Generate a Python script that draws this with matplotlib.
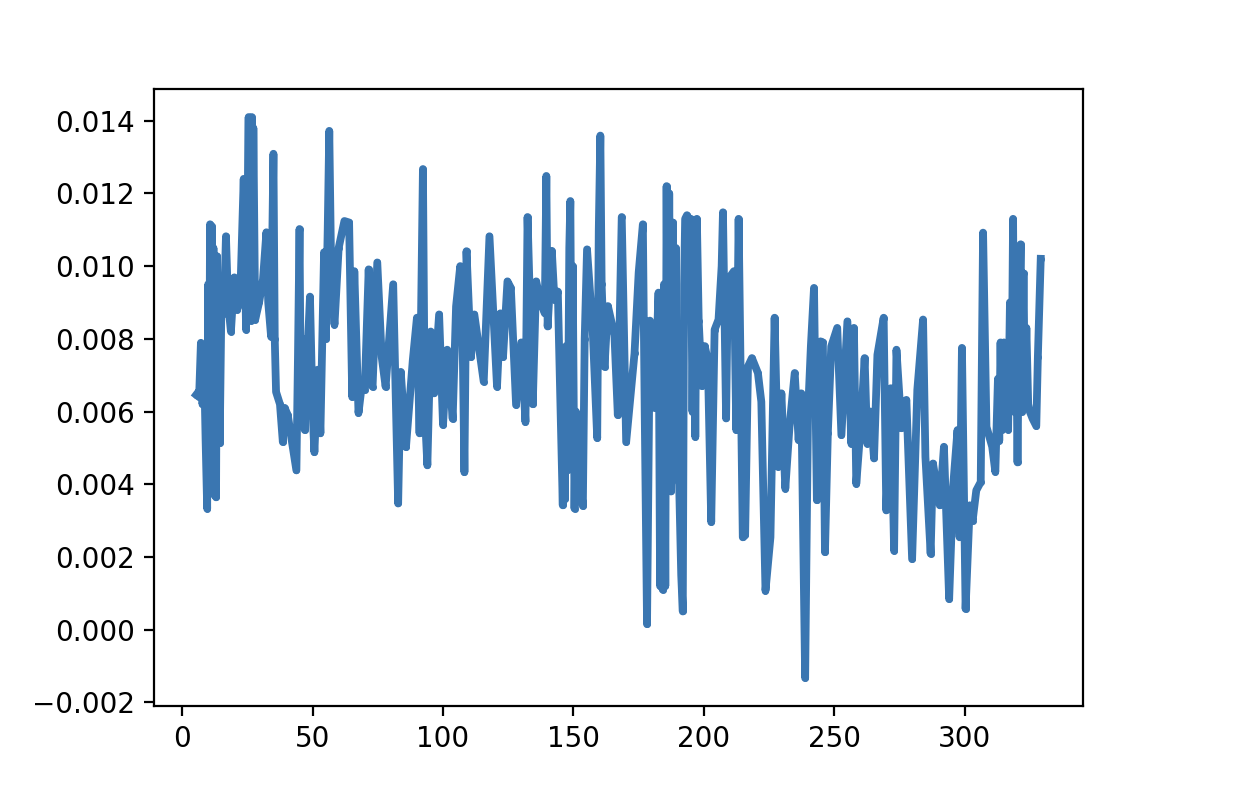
import matplotlib
matplotlib.use('Agg')
import matplotlib.pyplot as plt

# values (turning points of the trace)
t = [5.4, 6.5, 7.2, 7.8, 8.5, 9.0, 9.6, 10.0, 10.3, 10.7,
     11.0, 11.3, 11.7, 12.0, 12.4, 12.8, 13.0, 13.4, 13.8, 14.2,
     14.4, 15.0, 16.0, 16.8, 17.6, 18.7, 20.0, 21.0, 22.2, 23.6,
     24.5, 25.5, 25.8, 26.1, 26.4, 26.7, 27.0, 27.3, 28.0, 29.5,
     31.0, 32.3, 33.0, 34.1, 34.6, 35.0, 35.5, 36.0, 37.5, 38.6,
     39.3, 40.5, 41.8, 43.8, 44.4, 45.0, 45.5, 46.0, 47.0, 48.0,
     49.0, 50.0, 50.7, 52.0, 53.0, 54.0, 54.4, 55.0, 55.8, 56.4,
     57.2, 58.4, 60.0, 62.2, 64.0, 65.2, 66.0, 67.6, 69.0, 70.0,
     71.5, 73.0, 74.8, 76.5, 78.0, 80.9, 82.8, 83.8, 85.8, 88.4,
     90.0, 91.0, 92.3, 93.0, 94.0, 95.3, 96.5, 98.5, 100.0, 101.6,
     103.7, 105.0, 106.6, 107.5, 108.2, 109.0, 110.7, 112.0, 115.6, 117.8,
     120.7, 122.0, 123.0, 124.7, 126.0, 128.0, 130.0, 131.6, 132.4, 134.4,
     135.7, 137.5, 139.0, 139.6, 140.1, 141.7, 142.7, 144.0, 145.9, 146.3,
     146.7, 147.2, 147.8, 148.4, 148.8, 149.3, 149.7, 150.4, 150.9, 151.5,
     152.3, 153.0, 153.6, 154.3, 155.2, 157.4, 159.1, 159.7, 160.3, 160.8,
     161.9, 163.2, 165.7, 167.0, 168.5, 170.2, 173.4, 175.0, 176.6, 177.3,
     178.2, 178.7, 179.3, 179.8, 181.1, 182.6, 183.2, 183.7, 184.2, 184.7,
     185.2, 185.7, 186.2, 186.7, 187.4, 188.0, 188.6, 189.2, 189.7, 190.5,
     191.3, 191.9, 192.4, 192.8, 193.5, 194.3, 195.0, 195.6, 196.2, 196.7,
     197.3, 198.0, 199.2, 200.3, 201.5, 202.8, 204.1, 205.6, 206.8, 207.3,
     208.5, 209.2, 211.5, 212.4, 213.3, 214.9, 215.8, 216.9, 218.4, 220.7,
     222.0, 223.6, 225.5, 227.1, 228.4, 229.7, 231.2, 232.8, 234.8, 236.3,
     237.3, 238.8, 239.9, 241.0, 242.2, 243.3, 244.7, 245.6, 246.4, 247.5,
     248.8, 251.1, 252.7, 255.0, 256.5, 257.5, 258.4, 260.3, 261.6, 262.6,
     263.9, 265.2, 266.5, 268.9, 269.9, 271.6, 272.9, 273.8, 275.7, 277.6,
     279.8, 281.8, 284.0, 284.9, 286.9, 287.8, 290.4, 292.0, 294.0, 295.5,
     297.2, 298.0, 298.9, 300.3, 301.9, 303.0, 304.4, 306.1, 307.0, 308.3,
     310.5, 311.7, 312.7, 313.2, 313.7, 314.2, 315.0, 315.8, 316.6, 317.3,
     318.0, 318.5, 319.0, 319.5, 320.2, 320.8, 321.4, 321.9, 322.5, 323.0,
     323.6, 324.3, 324.9, 326.0, 327.4, 328.0, 329.1]

v = [0.00646, 0.0064, 0.00789, 0.0062, 0.0070, 0.0052, 0.00333, 0.0095, 0.0045, 0.01115,
     0.0050, 0.0111, 0.0042, 0.0105, 0.0037, 0.0095, 0.00364, 0.01027, 0.0055, 0.0088,
     0.00513, 0.00861, 0.0087, 0.01082, 0.0090, 0.0082, 0.00969, 0.0088, 0.0090, 0.0124,
     0.00825, 0.0141, 0.0088, 0.0140, 0.0085, 0.0141, 0.0095, 0.0138, 0.00853, 0.0090,
     0.00964, 0.01093, 0.0090, 0.00806, 0.0110, 0.01309, 0.0080, 0.00654, 0.0062, 0.00516,
     0.0061, 0.0059, 0.0053, 0.00438, 0.0075, 0.01102, 0.0060, 0.0080, 0.00549, 0.0075,
     0.00916, 0.0060, 0.00488, 0.00715, 0.0054, 0.0090, 0.01038, 0.0080, 0.0110, 0.01372,
     0.0095, 0.00839, 0.0105, 0.01124, 0.0112, 0.0064, 0.00986, 0.00596, 0.0068, 0.0066,
     0.00991, 0.00668, 0.0101, 0.0075, 0.00668, 0.0095, 0.00347, 0.00709, 0.00502, 0.0074,
     0.00858, 0.0054, 0.01267, 0.0060, 0.00452, 0.0082, 0.0065, 0.00867, 0.00563, 0.0077,
     0.0058, 0.00889, 0.0100, 0.0080, 0.00433, 0.01041, 0.0075, 0.00867, 0.00682, 0.01082,
     0.00668, 0.0087, 0.0075, 0.00958, 0.0094, 0.00618, 0.0079, 0.00571, 0.01135, 0.0062,
     0.00958, 0.0090, 0.0087, 0.01248, 0.00834, 0.01042, 0.00908, 0.0093, 0.00342, 0.0075,
     0.0036, 0.0078, 0.0044, 0.0105, 0.01179, 0.0060, 0.0100, 0.00333, 0.0060, 0.0036,
     0.0055, 0.0038, 0.0034, 0.0080, 0.01046, 0.0082, 0.00527, 0.0110, 0.01359, 0.0095,
     0.00723, 0.0089, 0.0081, 0.0059, 0.01135, 0.00516, 0.0076, 0.00983, 0.01115, 0.0060,
     0.00015, 0.0040, 0.0085, 0.0070, 0.0061, 0.00927, 0.0012, 0.0085, 0.0011, 0.0095,
     0.0012, 0.0122, 0.0050, 0.0120, 0.0038, 0.0112, 0.0045, 0.0105, 0.0043, 0.0040,
     0.0015, 0.0005, 0.0095, 0.0113, 0.0114, 0.0113, 0.0113, 0.0060, 0.0105, 0.0053,
     0.0113, 0.0085, 0.0067, 0.0078, 0.00742, 0.00296, 0.00825, 0.00853, 0.0100, 0.01148,
     0.00581, 0.00963, 0.00986, 0.00549, 0.0113, 0.00254, 0.0026, 0.00724, 0.00747, 0.00706,
     0.00627, 0.00107, 0.00254, 0.00858, 0.00448, 0.0065, 0.00388, 0.00558, 0.00706, 0.00521,
     0.0065, -0.00133, 0.00595, 0.0078, 0.0094, 0.00356, 0.00793, 0.0079, 0.00213, 0.0054,
     0.00779, 0.0083, 0.00535, 0.00848, 0.00512, 0.0083, 0.00401, 0.00581, 0.00747, 0.00512,
     0.0060, 0.00471, 0.00756, 0.00858, 0.00328, 0.00664, 0.00217, 0.0077, 0.00554, 0.00632,
     0.00194, 0.0066, 0.00853, 0.00475, 0.00209, 0.00457, 0.00342, 0.00503, 0.00084, 0.00392,
     0.00549, 0.00254, 0.00775, 0.00057, 0.00342, 0.0030, 0.00383, 0.00406, 0.01092, 0.00558,
     0.00503, 0.00434, 0.0069, 0.0052, 0.0079, 0.0055, 0.0079, 0.0060, 0.0055, 0.0090,
     0.0070, 0.0113, 0.0060, 0.0095, 0.0046, 0.0085, 0.0106, 0.0060, 0.0098, 0.0065,
     0.0083, 0.0062, 0.0060, 0.0058, 0.0056, 0.0075, 0.0102]

fig = plt.figure(figsize=(6.27, 3.97), dpi=200)
ax = fig.add_axes([0.1228, 0.1108, 0.7408, 0.7771])
ax.plot(t, v, color='#3a76b1', lw=2.8, marker='.', ms=3, solid_joinstyle='round')

fig.savefig('out.png', dpi=200)
